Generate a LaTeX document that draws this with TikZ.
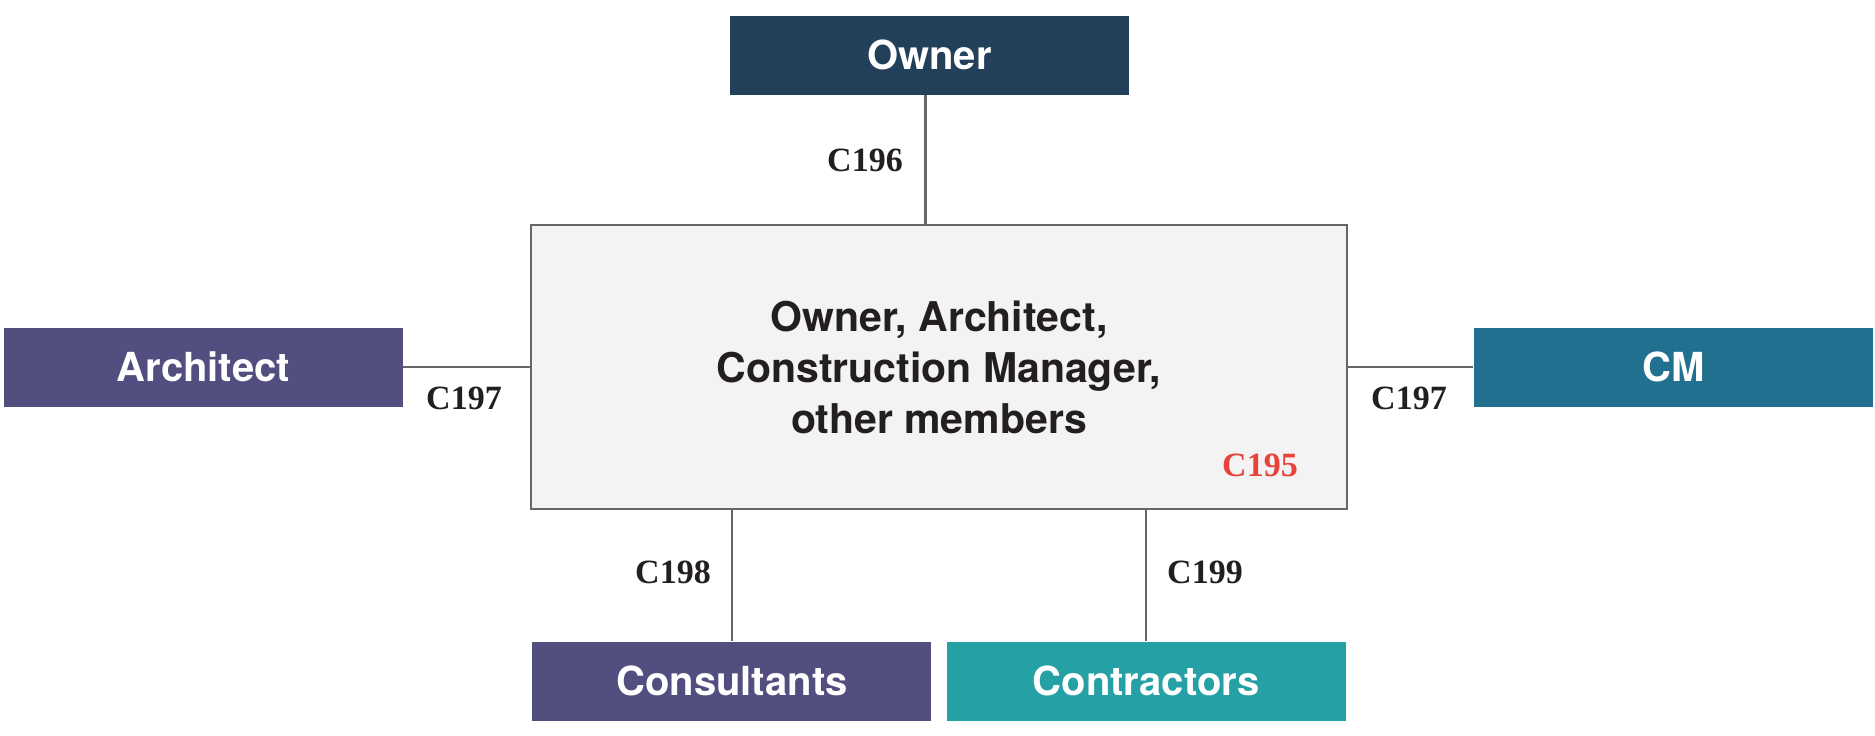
\documentclass[tikz,border=0pt]{standalone}
\usepackage{fontspec}
\setmainfont{TeX Gyre Heros}
\newfontfamily\labelfont{Liberation Serif}
\usepackage{tikz}
\usetikzlibrary{positioning}
\definecolor{ownerblue}{HTML}{224059}
\definecolor{archpurple}{HTML}{524E80}
\definecolor{cmblue}{HTML}{21708F}
\definecolor{contrteal}{HTML}{25A1A6}
\definecolor{hubgray}{HTML}{F3F3F3}
\definecolor{linegray}{HTML}{666666}
\definecolor{labelred}{HTML}{E8423A}
\definecolor{labeltext}{HTML}{231F20}

\begin{document}
\begin{tikzpicture}[
    x=0.5pt, y=-0.5pt,
    party/.style={minimum width=199.5pt, minimum height=39.5pt, inner sep=0pt, text=white,
        font=\fontsize{20}{24}\selectfont\bfseries},
    hub/.style={draw=linegray, line width=1.4pt, fill=hubgray, minimum width=408pt, minimum height=142pt,
        align=center, text=labeltext, font=\fontsize{20.5}{25.5}\selectfont\bfseries},
    doc/.style={text=labeltext, inner sep=0pt, font=\labelfont\fontsize{17}{20}\selectfont\bfseries},
    link/.style={draw=linegray, line width=1.1pt}
]
    \useasboundingbox (0,0) rectangle (1875,735);

    % Central agreement box
    \node[hub] (H) at (939,367) {Owner, Architect,\\Construction Manager,\\other members};

    % Parties round it
    \node[party, fill=ownerblue, above=64.25pt of H, xshift=-4.75pt] (O) {Owner};
    \node[party, fill=archpurple, left=63.25pt of H] (A) {Architect};
    \node[party, fill=cmblue, right=62.5pt of H] (M) {CM};
    \node[party, fill=archpurple, below=65.4pt of H.south west, anchor=north west, xshift=1.2pt] (S) {Consultants};
    \node[party, fill=contrteal, below=65.4pt of H.south east, anchor=north east, xshift=-1.2pt] (T) {Contractors};

    % Connectors
    \draw[link] ([xshift=-2pt]O.south) -- ([xshift=-2pt]O.south |- H.north);
    \draw[link] (A.east) -- (A.east -| H.west);
    \draw[link] (M.west) -- (M.west -| H.east);
    \draw[link] (S.north) -- (S.north |- H.south);
    \draw[link] (T.north) -- (T.north |- H.south);

    % Document labels
    \node[doc] (L196) at (865,160) {C196};
    \node[doc] (L197a) at (464,398) {C197};
    \node[doc] (L197b) at (1409,398) {C197};
    \node[doc, text=labelred] (L195) at (1260,465) {C195};
    \node[doc] (L198) at (673,572) {C198};
    \node[doc] (L199) at (1205,572) {C199};
\end{tikzpicture}
\end{document}
